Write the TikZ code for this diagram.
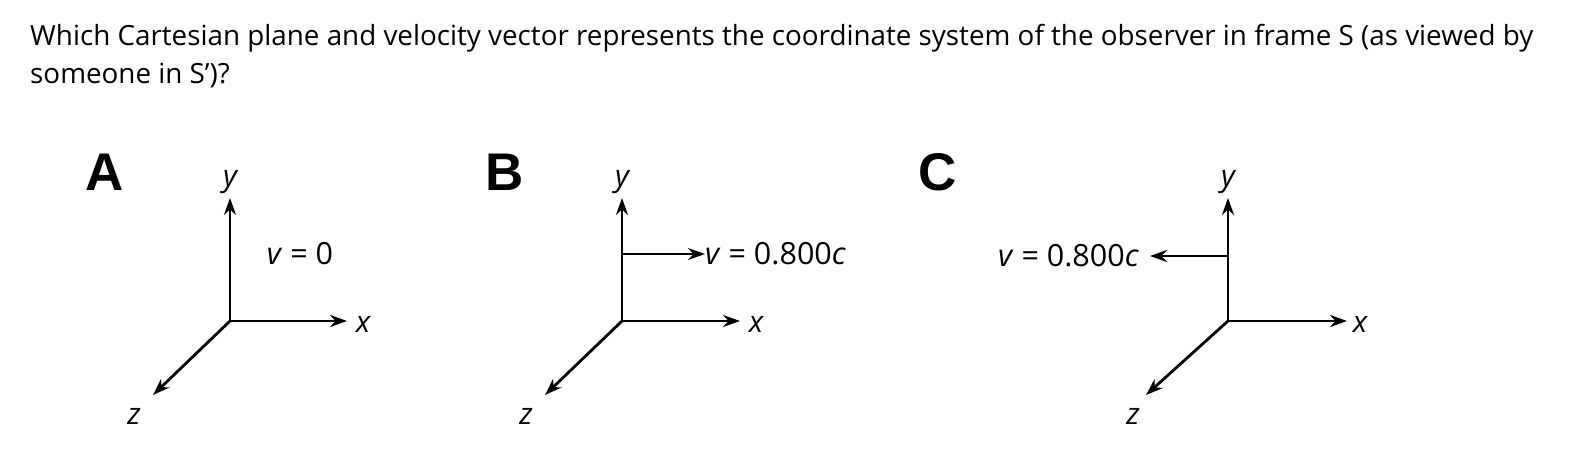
\documentclass[tikz,border=0pt]{standalone}
\usepackage{fontspec}
\setmainfont{Open Sans}
\newfontfamily\bigsans{Liberation Sans}
\usetikzlibrary{arrows.meta}
\begin{document}
\begin{tikzpicture}[x=1pt,y=-1pt,
 ax/.style={line width=2.8pt,-{Stealth[length=17pt,width=12pt]}},
 vel/.style={line width=2.8pt,-{Stealth[length=17pt,width=12pt]}},
 lab/.style={font=\fontsize{30}{30}\selectfont\itshape,inner sep=0pt},
 big/.style={font=\fontsize{53}{53}\selectfont\bigsans\bfseries,inner sep=0pt},
 vt/.style={font=\fontsize{30.5}{30}\selectfont,inner sep=0pt}]
\useasboundingbox (0,0) rectangle (1584,468);
\node[anchor=west,inner sep=0pt,align=left,font=\fontsize{27.8}{38}\selectfont] (t) at (30,56)
 {Which Cartesian plane and velocity vector represents the coordinate system of the observer in frame S (as viewed by\\someone in S')?};
% A
\coordinate (oa) at (230,321);
\node[big] (A) at (105,172) {A};
\node[lab] (ya) at (230,182) {y};
\node[lab] (xa) at (363,324) {x};
\node[lab] (za) at (134,416) {z};
\coordinate (yae) at (230,198); \coordinate (xae) at (347,321); \coordinate (zae) at (153,395);
\draw[ax] (oa) -- (yae); \draw[ax] (oa) -- (xae); \draw[ax] (oa) -- (zae);
\node[vt] (va) at (300,254) {\textit{v} = 0};
% B
\coordinate (ob) at (622,321);
\node[big] (B) at (505,172) {B};
\node[lab] (yb) at (622,182) {y};
\node[lab] (xb) at (756,324) {x};
\node[lab] (zb) at (526,416) {z};
\coordinate (ybe) at (622,198); \coordinate (xbe) at (740,321); \coordinate (zbe) at (545,395);
\draw[ax] (ob) -- (ybe); \draw[ax] (ob) -- (xbe); \draw[ax] (ob) -- (zbe);
\coordinate (vbs) at (622,254); \coordinate (vbe) at (705,254);
\draw[vel] (vbs) -- (vbe);
\node[vt,anchor=west] (vb) at (705,254) {\textit{v} = 0.800\textit{c}};
% C
\coordinate (oc) at (1228,321);
\node[big] (C) at (938,172) {C};
\node[lab] (yc) at (1228,182) {y};
\node[lab] (xc) at (1360,324) {x};
\node[lab] (zc) at (1133,416) {z};
\coordinate (yce) at (1228,198); \coordinate (xce) at (1347,321); \coordinate (zce) at (1146,395);
\draw[ax] (oc) -- (yce); \draw[ax] (oc) -- (xce); \draw[ax] (oc) -- (zce);
\coordinate (vcs) at (1228,256); \coordinate (vce) at (1150,256);
\draw[vel] (vcs) -- (vce);
\node[vt,anchor=east] (vc) at (1139,256) {\textit{v} = 0.800\textit{c}};
\end{tikzpicture}
\end{document}
